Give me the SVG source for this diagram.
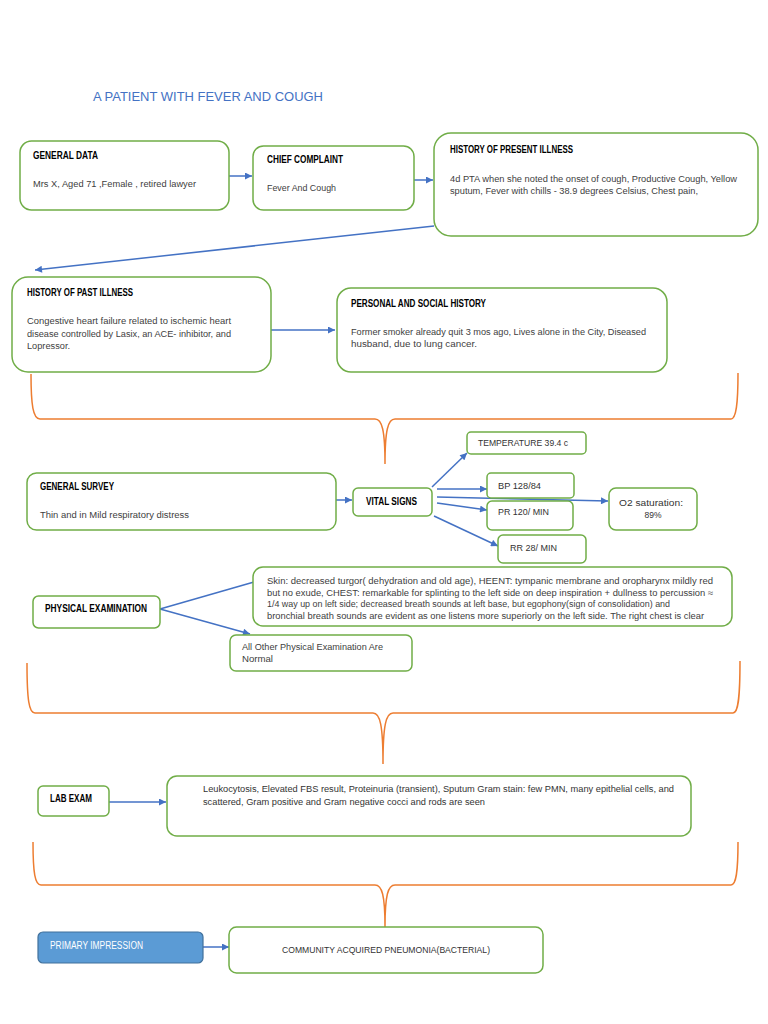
<svg xmlns="http://www.w3.org/2000/svg" width="768" height="1024" viewBox="0 0 768 1024">
<style>
.box{fill:#fff;stroke:#70AD47;stroke-width:1.5}
.pbox{fill:#5B9BD5;stroke:#41719C;stroke-width:1.2}
.t{font-family:"Liberation Sans",Arial,sans-serif;font-size:10px;font-weight:bold;fill:#000}
.b{font-family:"Liberation Sans",Arial,sans-serif;font-size:9.2px;fill:#404040}
.s{font-family:"Liberation Sans",Arial,sans-serif;font-size:9.2px;fill:#333}
.w{font-family:"Liberation Sans",Arial,sans-serif;font-size:10px;fill:#fff}
.title{font-family:"Liberation Sans",Arial,sans-serif;font-size:13.5px;fill:#4472C4}
.c{fill:none;stroke:#4472C4;stroke-width:1.5}
.brace{fill:none;stroke:#ED7D31;stroke-width:1.5}
</style>
<defs>
<marker id="ah" viewBox="0 0 10 10" refX="10" refY="5" markerWidth="8" markerHeight="7" markerUnits="userSpaceOnUse" orient="auto">
<path d="M0,0 L10,5 L0,10 z" fill="#4472C4"/>
</marker>
</defs>
<rect width="768" height="1024" fill="#fff"/>
<text class="title" x="93" y="101" textLength="230" lengthAdjust="spacingAndGlyphs">A PATIENT WITH FEVER AND COUGH</text>

<g id="connectors">
<line class="c" x1="229" y1="176" x2="252" y2="176" marker-end="url(#ah)"/>
<line class="c" x1="414" y1="180" x2="433" y2="180" marker-end="url(#ah)"/>
<line class="c" x1="434" y1="226" x2="35" y2="270" marker-end="url(#ah)"/>
<line class="c" x1="271" y1="330" x2="335" y2="330" marker-end="url(#ah)"/>
<line class="c" x1="336" y1="500" x2="352" y2="500" marker-end="url(#ah)"/>
<line class="c" x1="432" y1="487" x2="467" y2="453" marker-end="url(#ah)"/>
<line class="c" x1="437" y1="489" x2="487" y2="489" marker-end="url(#ah)"/>
<line class="c" x1="437" y1="497" x2="608" y2="501" marker-end="url(#ah)"/>
<line class="c" x1="437" y1="503" x2="487" y2="510" marker-end="url(#ah)"/>
<line class="c" x1="434" y1="516" x2="498" y2="546" marker-end="url(#ah)"/>
<line class="c" x1="160" y1="609" x2="254" y2="582"/>
<line class="c" x1="160" y1="609" x2="250" y2="634" marker-end="url(#ah)"/>
<line class="c" x1="109" y1="802" x2="166" y2="802" marker-end="url(#ah)"/>
<line class="c" x1="203" y1="947" x2="229" y2="947" marker-end="url(#ah)"/>
</g>

<g id="braces">
<path class="brace" d="M31,374 C31,405 33,419 40,419 L375,419 C382,419 385,430 385,464 C385,430 388,419 395,419 L731,419 C736,419 738,405 738,373"/>
<path class="brace" d="M27,663 C27,700 29,713 35,713 L373,713 C380,713 383,725 383,764 C383,725 386,713 393,713 L733,713 C738,713 740,700 740,661"/>
<path class="brace" d="M33,842 C33,873 35,885 41,885 L375,885 C382,885 385,895 385,927 C385,895 388,885 395,885 L731,885 C736,885 738,873 738,842"/>
</g>

<g id="general-data">
<rect class="box" x="20" y="141" width="209" height="69" rx="11.5"/>
<text class="t" x="33" y="159" textLength="65" lengthAdjust="spacingAndGlyphs">GENERAL DATA</text>
<text class="b" x="33" y="187" textLength="163" lengthAdjust="spacingAndGlyphs">Mrs X, Aged 71 ,Female , retired lawyer</text>
</g>
<g id="chief-complaint">
<rect class="box" x="253" y="146" width="161" height="64" rx="10.5"/>
<text class="t" x="267" y="163" textLength="76" lengthAdjust="spacingAndGlyphs">CHIEF COMPLAINT</text>
<text class="b" x="267" y="191" textLength="69" lengthAdjust="spacingAndGlyphs">Fever And Cough</text>
</g>
<g id="hpi">
<rect class="box" x="434" y="133" width="324" height="103" rx="17"/>
<text class="t" x="450" y="153" textLength="123" lengthAdjust="spacingAndGlyphs">HISTORY OF PRESENT ILLNESS</text>
<text class="b" x="450" y="182" textLength="287" lengthAdjust="spacingAndGlyphs">4d PTA when she noted the onset of cough, Productive Cough, Yellow</text>
<text class="b" x="450" y="194" textLength="248" lengthAdjust="spacingAndGlyphs">sputum, Fever with chills - 38.9 degrees Celsius, Chest pain,</text>
</g>
<g id="hpai">
<rect class="box" x="12" y="277" width="259" height="95" rx="16"/>
<text class="t" x="27" y="296" textLength="106" lengthAdjust="spacingAndGlyphs">HISTORY OF PAST ILLNESS</text>
<text class="b" x="27" y="324" textLength="204" lengthAdjust="spacingAndGlyphs">Congestive heart failure related to ischemic heart</text>
<text class="b" x="27" y="337" textLength="204" lengthAdjust="spacingAndGlyphs">disease controlled by Lasix, an ACE- inhibitor, and</text>
<text class="b" x="27" y="349" textLength="43" lengthAdjust="spacingAndGlyphs">Lopressor.</text>
</g>
<g id="psh">
<rect class="box" x="337" y="288" width="330" height="84" rx="14"/>
<text class="t" x="351" y="307" textLength="135" lengthAdjust="spacingAndGlyphs">PERSONAL AND SOCIAL HISTORY</text>
<text class="b" x="351" y="335" textLength="295" lengthAdjust="spacingAndGlyphs">Former smoker already quit 3 mos ago, Lives alone in the City, Diseased</text>
<text class="b" x="351" y="347" textLength="126" lengthAdjust="spacingAndGlyphs">husband, due to lung cancer.</text>
</g>
<g id="general-survey">
<rect class="box" x="27" y="473" width="309" height="57" rx="9.5"/>
<text class="t" x="40" y="490" textLength="74" lengthAdjust="spacingAndGlyphs">GENERAL SURVEY</text>
<text class="b" x="40" y="518" textLength="149" lengthAdjust="spacingAndGlyphs">Thin and in Mild respiratory distress</text>
</g>
<g id="vital-signs">
<rect class="box" x="353" y="488" width="79" height="28" rx="5"/>
<text class="t" x="366" y="505" textLength="51" lengthAdjust="spacingAndGlyphs">VITAL SIGNS</text>
</g>
<g id="temperature">
<rect class="box" x="467" y="432" width="119" height="22" rx="4"/>
<text class="s" x="478" y="446" textLength="90" lengthAdjust="spacingAndGlyphs">TEMPERATURE 39.4 c</text>
</g>
<g id="bp">
<rect class="box" x="487" y="473" width="87" height="25" rx="4"/>
<text class="s" x="498" y="489" textLength="43" lengthAdjust="spacingAndGlyphs">BP 128/84</text>
</g>
<g id="pr">
<rect class="box" x="487" y="501" width="86" height="29" rx="5"/>
<text class="s" x="498" y="515" textLength="51" lengthAdjust="spacingAndGlyphs">PR 120/ MIN</text>
</g>
<g id="rr">
<rect class="box" x="498" y="535" width="88" height="28" rx="5"/>
<text class="s" x="510" y="551" textLength="47" lengthAdjust="spacingAndGlyphs">RR 28/ MIN</text>
</g>
<g id="o2">
<rect class="box" x="609" y="488" width="88" height="42" rx="7"/>
<text class="s" x="651" y="506" text-anchor="middle" textLength="64" lengthAdjust="spacingAndGlyphs">O2 saturation:</text>
<text class="s" x="653" y="518" text-anchor="middle" textLength="17" lengthAdjust="spacingAndGlyphs">89%</text>
</g>
<g id="physical-exam">
<rect class="box" x="33" y="596" width="127" height="32" rx="5.5"/>
<text class="t" x="45" y="612" textLength="102" lengthAdjust="spacingAndGlyphs">PHYSICAL EXAMINATION</text>
</g>
<g id="pe-findings">
<rect class="box" x="253" y="567" width="479" height="59" rx="10"/>
<text class="b" x="267" y="584" textLength="446" lengthAdjust="spacingAndGlyphs">Skin: decreased turgor( dehydration and old age), HEENT: tympanic membrane and oropharynx mildly red</text>
<text class="b" x="267" y="596" textLength="446" lengthAdjust="spacingAndGlyphs">but no exude, CHEST: remarkable for splinting to the left side on deep inspiration + dullness to percussion ≈</text>
<text class="b" x="267" y="607" textLength="403" lengthAdjust="spacingAndGlyphs">1/4 way up on left side; decreased breath sounds at left base, but egophony(sign of consolidation) and</text>
<text class="b" x="267" y="619" textLength="437" lengthAdjust="spacingAndGlyphs">bronchial breath sounds are evident as one listens more superiorly on the left side. The right chest is clear</text>
</g>
<g id="pe-normal">
<rect class="box" x="230" y="635" width="182" height="36" rx="6"/>
<text class="b" x="242" y="650" textLength="141" lengthAdjust="spacingAndGlyphs">All Other Physical Examination Are</text>
<text class="b" x="242" y="662" textLength="31" lengthAdjust="spacingAndGlyphs">Normal</text>
</g>
<g id="lab-exam">
<rect class="box" x="38" y="786" width="71" height="30" rx="5"/>
<text class="t" x="50" y="802" textLength="42" lengthAdjust="spacingAndGlyphs">LAB EXAM</text>
</g>
<g id="lab-results">
<rect class="box" x="167" y="776" width="524" height="60" rx="10"/>
<text class="s" x="203" y="792" textLength="471" lengthAdjust="spacingAndGlyphs">Leukocytosis, Elevated FBS result, Proteinuria (transient), Sputum Gram stain: few PMN, many epithelial cells, and</text>
<text class="s" x="203" y="805" textLength="282" lengthAdjust="spacingAndGlyphs">scattered, Gram positive and Gram negative cocci and rods are seen</text>
</g>
<g id="primary-impression">
<rect class="pbox" x="38" y="932" width="165" height="31" rx="5"/>
<text class="w" x="50" y="949" textLength="93" lengthAdjust="spacingAndGlyphs">PRIMARY IMPRESSION</text>
</g>
<g id="diagnosis">
<rect class="box" x="229" y="927" width="314" height="46" rx="7.5"/>
<text class="s" x="282" y="953" textLength="208" lengthAdjust="spacingAndGlyphs">COMMUNITY ACQUIRED PNEUMONIA(BACTERIAL)</text>
</g>
</svg>
